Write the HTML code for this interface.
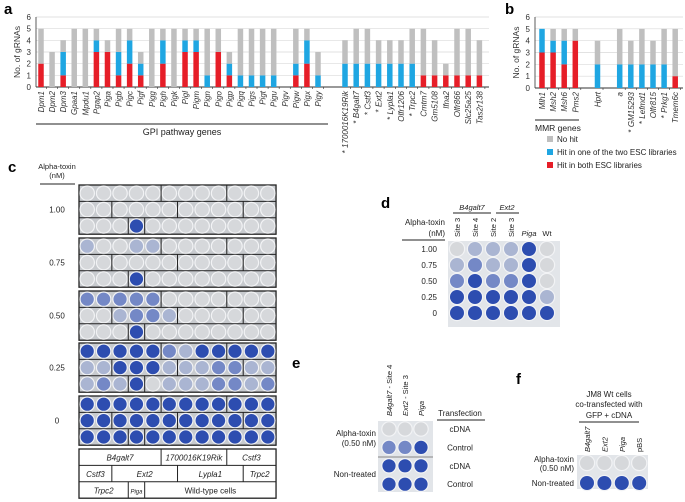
<!DOCTYPE html>
<html><head><meta charset="utf-8"><style>
body{margin:0;background:#fff}
svg{display:block;font-family:"Liberation Sans",sans-serif}
</style></head><body>
<svg id="fig" width="685" height="502" viewBox="0 0 685 502">
<text x="4" y="14" font-size="15" font-weight="bold">a</text>
<text x="505" y="14" font-size="15" font-weight="bold">b</text>
<text x="8" y="172" font-size="15" font-weight="bold">c</text>
<text x="381" y="208" font-size="15" font-weight="bold">d</text>
<text x="292" y="368" font-size="15" font-weight="bold">e</text>
<text x="516" y="384" font-size="15" font-weight="bold">f</text>
<g id="ga"></g>
<g id="gb"></g>
<g id="gc"></g>
<g id="gd"></g>
<g id="ge"></g>
<g id="gf"></g>
</svg>
<script>
// ---- panel a data ----
const aGenes=["Dpm1","Dpm2","Dpm3","Gpaa1","Mpdu1","Pgap2","Piga","Pigb","Pigc","Pigf","Pigg","Pigh","Pigk","Pigl","Pigm","Pign","Pigo","Pigp","Pigq","Pigs","Pigt","Pigu","Pigv","Pigw","Pigx","Pigy","* 1700016K19Rik","* B4galt7","* Cstf3","* Ext2","* Lypla1","Olfr1206","* Trpc2","Cmtm7","Gm5108","Ifna2","Olfr866","Slc25a25","Tas2r138"];
const aTotal=[5,3,4,5,5,5,4,5,5,3,5,5,5,5,5,5,5,3,5,5,5,5,0,5,5,3,4,5,5,4,4,4,5,5,4,2,5,5,4];
const aBoth=[2,0,1,0,0,3,3,1,2,1,0,2,0,3,3,0,3,1,0,0,0,0,0,1,2,0,0,0,0,0,0,0,0,1,1,1,1,1,1];
const aOne=[0,0,2,0,0,1,0,2,2,1,0,2,0,1,1,1,0,1,1,1,1,1,0,1,2,1,2,2,2,2,2,2,2,0,0,0,0,0,0];
const yTicks=[0,1,2,3,4,5,6];
// ---- panel b data ----
const bGenes=["Mlh1","Msh2","Msh6","Pms2","Hprt","a","* GM15293","* Lefmd1","Olfr815","* Prkg1","Tmem6c"];
const bSlots=[0,1,2,3,5,7,8,9,10,11,12];
const bTotal=[5,5,5,5,4,5,4,5,4,5,5];
const bBoth=[3,3,2,4,0,0,0,0,0,0,1];
const bOne=[2,1,2,0,2,2,2,2,2,2,0];

const NS="http://www.w3.org/2000/svg";
const GREY="#bfbfbf",BLUE="#1fa6e2",RED="#e61e28";
function mk(parent,tag,attrs,text){const e=document.createElementNS(NS,tag);for(const k in attrs)e.setAttribute(k,attrs[k]);if(text!==undefined)e.textContent=text;parent.appendChild(e);return e;}

function drawBars(g,genes,total,both,one,xs,x0,x1,y0,y6,prefix){
  const ys=v=>y0-(y0-y6)*v/6;
  yTicks.forEach(t=>{
    const l=mk(g,'line',{x1:x0,x2:x1,y1:ys(t),y2:ys(t),stroke:t===0?'#333':'#d9d9d9','stroke-width':t===0?1:0.7});
    
    
    const tx=mk(g,'text',{x:x0-5,y:ys(t)+3,'font-size':8,'text-anchor':'end',fill:'#333'},String(t));
    
    
  });
  mk(g,'line',{x1:x0,x2:x0,y1:y0,y2:y6,stroke:'#333','stroke-width':0.8});
  const yt=mk(g,'text',{transform:`translate(${x0-16},${(y0+y6)/2}) rotate(-90)`,'font-size':8.5,'text-anchor':'middle',fill:'#333'},'No. of gRNAs');
  
  
  genes.forEach((gname,i)=>{
    const x=xs(i),w=5.5;
    const segs=[[0,both[i],RED],[both[i],both[i]+one[i],BLUE],[both[i]+one[i],total[i],GREY]];
    segs.forEach(s=>{ if(s[1]>s[0]){
      const r=mk(g,'rect',{x:x-w/2,y:ys(s[1]),width:w,height:ys(s[0])-ys(s[1]),fill:s[2]});
      
      
    }});
    mk(g,'line',{x1:x+5.5,x2:x+5.5,y1:y0,y2:y0+2,stroke:'#333','stroke-width':0.6});
    const star=gname.startsWith('* ');
    const lab=mk(g,'text',{transform:`translate(${x+3},${y0+4}) rotate(-90)`,'font-size':8,'text-anchor':'end',fill:'#333'});
    if(star){mk(lab,'tspan',{},'* ');}
    mk(lab,'tspan',{'font-style':'italic'},star?gname.slice(2):gname);
    
    
  });
}
const ga=document.getElementById('ga');
drawBars(ga,aGenes,aTotal,aBoth,aOne,i=>i<26?41+i*11.08:345+(i-26)*11.2,36,489,87,17,'a');
mk(ga,'line',{x1:36,x2:328,y1:124,y2:124,stroke:'#222','stroke-width':1});
mk(ga,'text',{x:182,y:135,'font-size':9,'text-anchor':'middle',fill:'#222'},'GPI pathway genes');
const gb=document.getElementById('gb');
drawBars(gb,bGenes,bTotal,bBoth,bOne,i=>542+bSlots[i]*11.1,535,683,88,17,'b');
mk(gb,'line',{x1:535,x2:579,y1:120,y2:120,stroke:'#222','stroke-width':1});
mk(gb,'text',{x:535,y:131,'font-size':8.5,fill:'#222'},'MMR genes');
[[GREY,'No hit',142],[BLUE,'Hit in one of the two ESC libraries',155],[RED,'Hit in both ESC libraries',168]].forEach(l=>{
  const r=mk(gb,'rect',{x:547,y:l[2]-6,width:6,height:6,fill:l[0]});
  
  
  const t=mk(gb,'text',{x:557,y:l[2],'font-size':8,fill:'#222'},l[1]);
  
  
});

// ---- wells ----
const WCOL=['#d6d8db','#aab5d2','#7488c6','#2d4db0'];
function well(g,cx,cy,r,lvl){
  mk(g,'circle',{cx:cx,cy:cy,r:r+1.2,fill:'#f2f3f5'});
  const c=mk(g,'circle',{cx:cx,cy:cy,r:r,fill:WCOL[lvl]});
  
  
}
function txt(g,x,y,s,opt){const o=Object.assign({'font-size':8,fill:'#222'},opt||{});return mk(g,'text',Object.assign({x:x,y:y},o),s);}

// panel c
const cBlocks=[
 ["000000000000","000000000000","000300000000"],
 ["100110000000","000000000000","000300000000"],
 ["222220000000","001221000000","000300000000"],
 ["333332133333","113331112211","121301112212"],
 ["333333333333","333333333333","333333333333"]];
const cConc=["1.00","0.75","0.50","0.25","0"];
const gc=document.getElementById('gc');
const cx0=79,cw=16.42,blockY=[185,238,291,343,396],rh=16.4;
txt(gc,57,169,'Alpha-toxin',{'text-anchor':'middle','font-size':7.5});
txt(gc,57,178,'(nM)',{'text-anchor':'middle','font-size':7.5});
mk(gc,'line',{x1:40,x2:75,y1:184,y2:184,stroke:'#222'});
const dividers=[[5,9],[2,6,10],[3,4]];
cBlocks.forEach((blk,b)=>{
  const by=blockY[b];
  mk(gc,'rect',{x:cx0,y:by,width:cw*12,height:rh*3,fill:'#c8cbcf',stroke:'#222','stroke-width':1.3});
  blk.forEach((row,r)=>{
    for(let c=0;c<12;c++) well(gc,cx0+cw*(c+0.5),by+rh*(r+0.5),6.6,+row[c]);
    if(r<2) mk(gc,'line',{x1:cx0,x2:cx0+cw*12,y1:by+rh*(r+1),y2:by+rh*(r+1),stroke:'#222','stroke-width':1});
    dividers[r].forEach(d=>mk(gc,'line',{x1:cx0+cw*d,x2:cx0+cw*d,y1:by+rh*r,y2:by+rh*(r+1),stroke:'#222','stroke-width':1}));
  });
  const t=txt(gc,57,by+rh*1.5+3,cConc[b],{'text-anchor':'middle'});
  
  
});
const ty=449;
mk(gc,'rect',{x:cx0,y:ty,width:cw*12,height:rh*3,fill:'#fff',stroke:'#222','stroke-width':1.3});
const cLabels=[[["B4galt7",5],["1700016K19Rik",4],["Cstf3",3]],[["Cstf3",2],["Ext2",4],["Lypla1",4],["Trpc2",2]],[["Trpc2",3],["Piga",1],["Wild-type cells",8]]];
cLabels.forEach((row,r)=>{
  let c=0;
  if(r<2) mk(gc,'line',{x1:cx0,x2:cx0+cw*12,y1:ty+rh*(r+1),y2:ty+rh*(r+1),stroke:'#222'});
  row.forEach((l,k)=>{
    if(k>0) mk(gc,'line',{x1:cx0+cw*c,x2:cx0+cw*c,y1:ty+rh*r,y2:ty+rh*(r+1),stroke:'#222'});
    const t=txt(gc,cx0+cw*(c+l[1]/2),ty+rh*r+11.5,l[0],{'text-anchor':'middle','font-style':l[0].startsWith('Wild')?'normal':'italic','font-size':l[1]==1?6:8});
    
    
    c+=l[1];
  });
});

// panel d
const dCols=["Site 3","Site 4","Site 2","Site 3","Piga","Wt"];
const dRows=["1.00","0.75","0.50","0.25","0"];
const dLv=["011130","121130","232230","333331","333333"];
const gd=document.getElementById('gd');
mk(gd,'rect',{x:448,y:241,width:112,height:86,fill:'#e2e5e9'});
dLv.forEach((row,r)=>{
  for(let c=0;c<6;c++) well(gd,457+c*18,249+r*16,7,+row[c]);
  const t=txt(gd,437,252+r*16,dRows[r],{'text-anchor':'end'});
  
  
});
dCols.forEach((s,c)=>{
  const t=txt(gd,0,0,s,{transform:`translate(${460+c*18},${237}) rotate(${c<4?-90:0})`,'text-anchor':c<4?'start':'middle','font-style':c==4?'italic':'normal','font-size':7.5});
  if(c>=4){t.setAttribute('transform',`translate(${457+c*18},${236})`);}
  
  
});
txt(gd,472,210,'B4galt7',{'text-anchor':'middle','font-style':'italic','font-size':7.5});
mk(gd,'line',{x1:453,x2:491,y1:213,y2:213,stroke:'#222'});
txt(gd,507,210,'Ext2',{'text-anchor':'middle','font-style':'italic','font-size':7.5});
mk(gd,'line',{x1:496,x2:519,y1:213,y2:213,stroke:'#222'});
txt(gd,445,225,'Alpha-toxin',{'text-anchor':'end'});
txt(gd,445,236,'(nM)',{'text-anchor':'end'});
mk(gd,'line',{x1:402,x2:445,y1:240,y2:240,stroke:'#222'});

// panel e
const eCols=["B4galt7 - Site 4","Ext2 - Site 3","Piga"];
const eRows=["cDNA","Control","cDNA","Control"];
const eLv=["000","223","333","333"];
const ge=document.getElementById('ge');
mk(ge,'rect',{x:378,y:421,width:55,height:71,fill:'#e2e5e9'});
eLv.forEach((row,r)=>{
  for(let c=0;c<3;c++) well(ge,389+c*16,429+r*18.4,6.6,+row[c]);
  const t=txt(ge,460,432+r*18.4,eRows[r],{'text-anchor':'middle'});
  
  
});
mk(ge,'line',{x1:378,x2:433,y1:457,y2:457,stroke:'#888'});
eCols.forEach((s,c)=>{
  const t=mk(ge,'text',{transform:`translate(${392+c*16},416) rotate(-90)`,'font-size':7.5,fill:'#222'});
  const parts=s.split(' - ');
  mk(t,'tspan',{'font-style':'italic'},parts[0]);
  if(parts[1]) mk(t,'tspan',{},' - '+parts[1]);
  
  
});
txt(ge,460,416,'Transfection',{'text-anchor':'middle'});
mk(ge,'line',{x1:437,x2:485,y1:420,y2:420,stroke:'#222'});
txt(ge,376,436,'Alpha-toxin',{'text-anchor':'end'});
txt(ge,376,446,'(0.50 nM)',{'text-anchor':'end'});
txt(ge,376,477,'Non-treated',{'text-anchor':'end'});

// panel f
const fCols=["B4galt7","Ext2","Piga","pBS"];
const fLv=["0000","3333"];
const gf=document.getElementById('gf');
mk(gf,'rect',{x:577,y:455,width:71,height:34,fill:'#e2e5e9'});
fLv.forEach((row,r)=>{for(let c=0;c<4;c++) well(gf,587+c*17.4,463+r*20,7,+row[c]);});
fCols.forEach((s,c)=>{
  const t=txt(gf,0,0,s,{transform:`translate(${590+c*17.4},452) rotate(-90)`,'font-style':c<3?'italic':'normal','font-size':7.5});
  
  
});
txt(gf,609,397,'JM8 Wt cells',{'text-anchor':'middle'});
txt(gf,609,407,'co-transfected with',{'text-anchor':'middle'});
txt(gf,609,418,'GFP + cDNA',{'text-anchor':'middle'});
mk(gf,'line',{x1:579,x2:639,y1:422,y2:422,stroke:'#222'});
txt(gf,574,462,'Alpha-toxin',{'text-anchor':'end'});
txt(gf,574,471,'(0.50 nM)',{'text-anchor':'end'});
txt(gf,574,486,'Non-treated',{'text-anchor':'end'});
</script>
</body></html>
